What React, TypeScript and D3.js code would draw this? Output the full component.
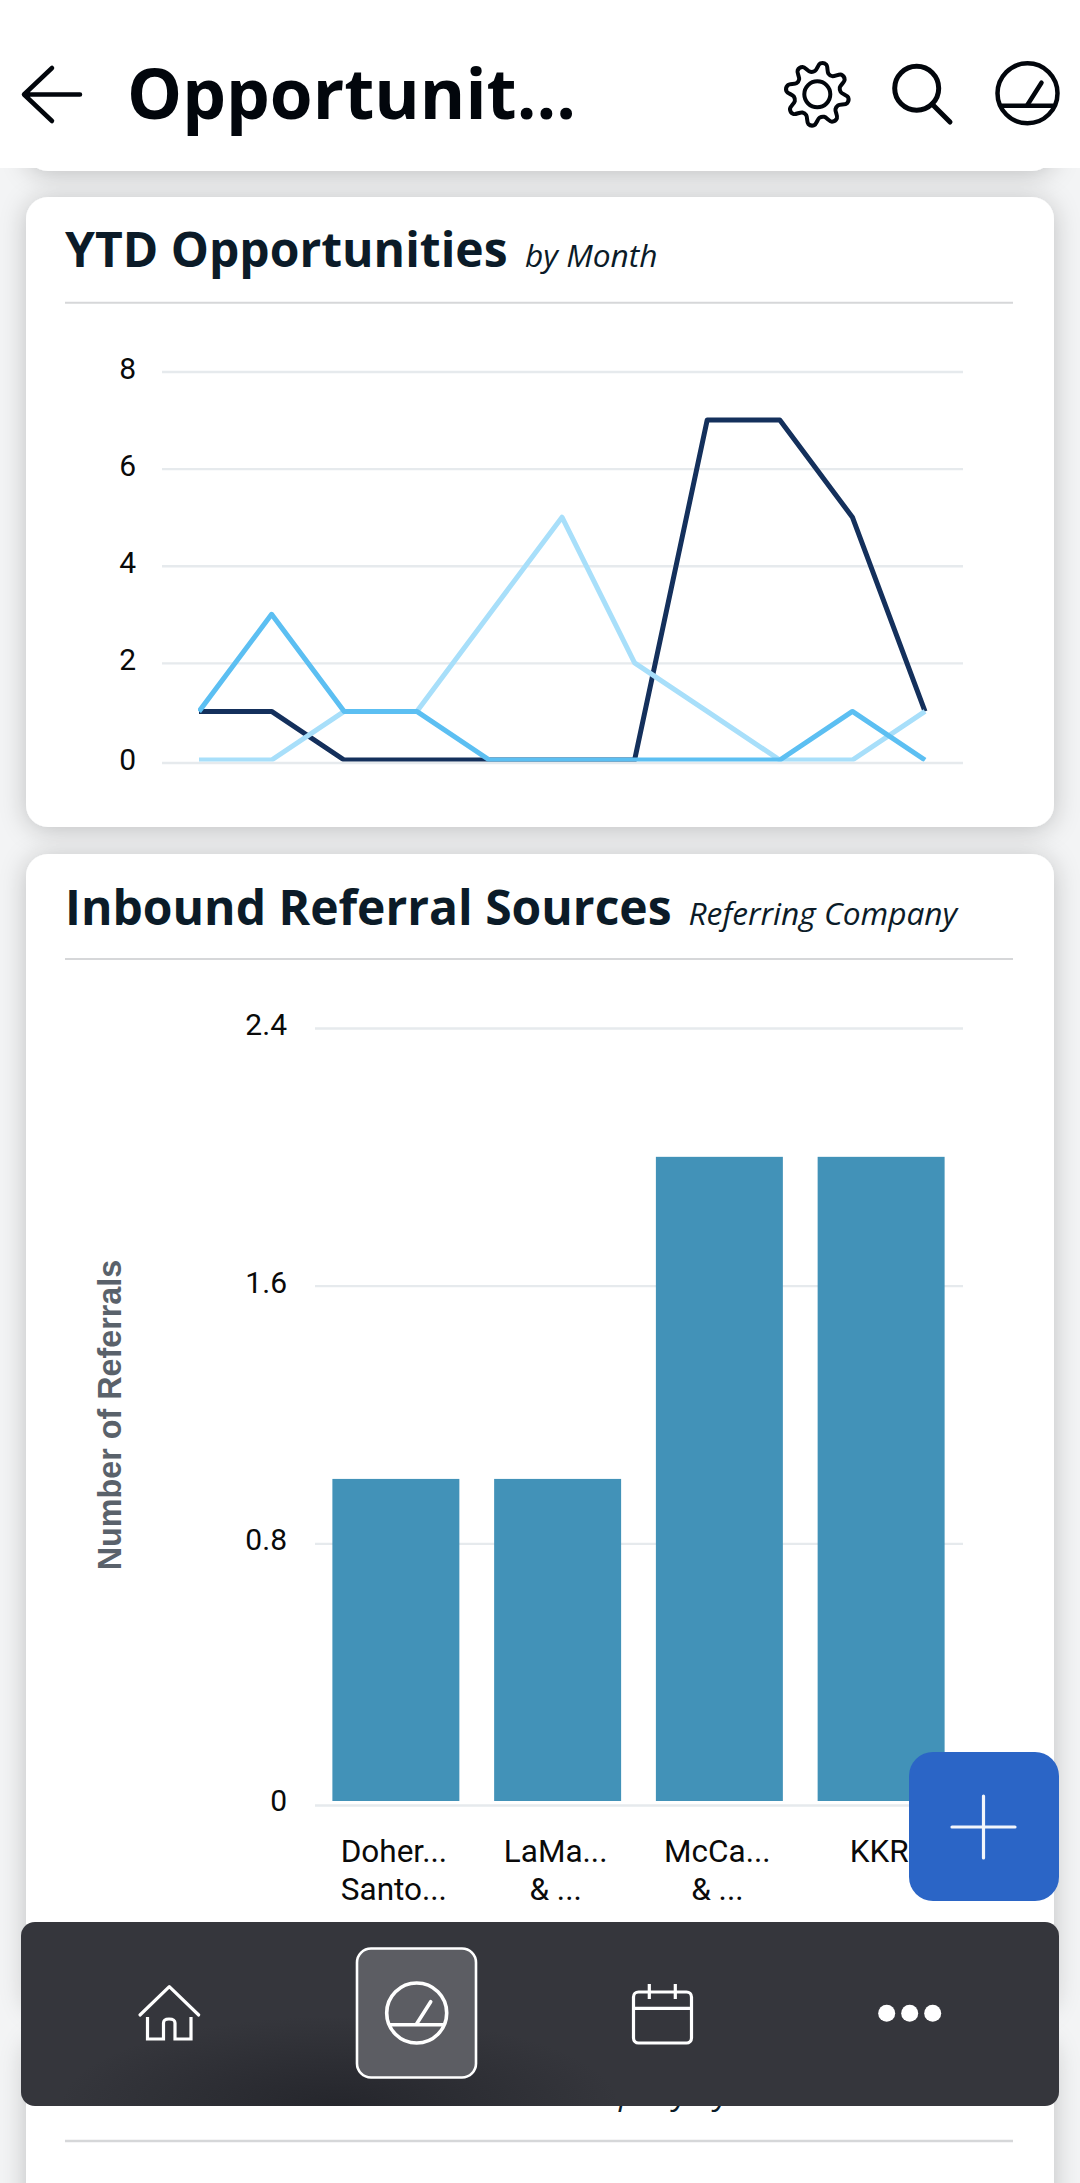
import * as d3 from "d3";
import { useEffect, useRef } from "react";

const months = ["Jan", "Feb", "Mar", "Apr", "May", "Jun", "Jul", "Aug", "Sep", "Oct", "Nov"];
const seriesDark = [1, 1, 0, 0, 0, 0, 0, 7, 7, 5, 1];
const seriesLight = [0, 0, 1, 1, 3, 5, 2, 1, 0, 0, 1];
const seriesMid = [1, 3, 1, 1, 0, 0, 0, 0, 0, 1, 0];
const lineTicks = [0, 2, 4, 6, 8];

const companies = ["Doherty", "LaMarche", "McCarthy", "KKR"];
const companyLabels = [["Doher...", "Santo..."], ["LaMa...", "& ..."], ["McCa...", "& ..."], ["KKR"]];
const referrals = [1, 1, 2, 2];
const barTicks = [0, 0.8, 1.6, 2.4];

const W = 1080;
const H = 2183;
const TITLE_FONT = "'Open Sans', sans-serif";
const INK = "#0b1b28";

type Sel = d3.Selection<any, any, any, any>;

function styleAxis(g: Sel, baseShift: number) {
  g.select(".domain").remove();
  g.selectAll(".tick line").attr("stroke", "#e6eaed").attr("stroke-width", 2.4);
  g.selectAll(".tick text")
    .attr("fill", "#0a0a0a")
    .attr("font-family", "Roboto, sans-serif")
    .attr("font-size", 30)
    .attr("dy", "0.22em");
  // the zero line and its label sit a little under the marks in the original
  const zero = g.selectAll(".tick").filter((d: any) => d === 0);
  zero.select("line").attr("transform", `translate(0,${baseShift})`);
  zero.select("text").attr("transform", "translate(0,2.5)");
}

function cardHeader(svg: Sel, title: string, sub: string, titleX: number, subX: number, base: number, ruleY: number) {
  svg.append("text").attr("x", titleX).attr("y", base).attr("font-family", TITLE_FONT).attr("font-weight", 700)
    .attr("font-size", 48).attr("fill", INK).text(title);
  svg.append("text").attr("x", subX).attr("y", base).attr("font-family", TITLE_FONT).attr("font-style", "italic")
    .attr("font-size", 31.7).attr("fill", INK).text(sub);
  svg.append("line").attr("x1", 65).attr("x2", 1013).attr("y1", ruleY).attr("y2", ruleY)
    .attr("stroke", "#d6d7d9").attr("stroke-width", 2);
}

function gauge(g: Sel, cx: number, cy: number, r: number, lineY: number, color: string, sw: number) {
  g.append("circle").attr("cx", cx).attr("cy", cy).attr("r", r).attr("fill", "none").attr("stroke", color).attr("stroke-width", sw);
  const dx = Math.sqrt(r * r - (lineY - cy) * (lineY - cy));
  g.append("line").attr("x1", cx - dx).attr("x2", cx + dx).attr("y1", lineY).attr("y2", lineY).attr("stroke", color).attr("stroke-width", sw);
  g.append("line").attr("x1", cx).attr("y1", lineY - 1).attr("x2", cx + 14).attr("y2", lineY - 23)
    .attr("stroke", color).attr("stroke-width", sw).attr("stroke-linecap", "round");
}

export default function App() {
  const ref = useRef<SVGSVGElement>(null);

  useEffect(() => {
    if (!ref.current) return;
    const svg = d3.select(ref.current);
    svg.selectAll("*").remove();

    const defs = svg.append("defs");
    const shadow = defs.append("filter").attr("id", "cardShadow").attr("x", "-10%").attr("y", "-20%").attr("width", "120%").attr("height", "140%");
    shadow.append("feDropShadow").attr("dx", 0).attr("dy", 3).attr("stdDeviation", 13).attr("flood-color", "#000").attr("flood-opacity", 0.22);
    const navGlow = defs.append("radialGradient").attr("id", "navGlow").attr("gradientUnits", "userSpaceOnUse")
      .attr("cx", 0).attr("cy", 0).attr("r", 1)
      .attr("gradientTransform", "translate(340,2106) scale(280,90)");
    navGlow.append("stop").attr("offset", 0).attr("stop-color", "#25262c");
    navGlow.append("stop").attr("offset", 1).attr("stop-color", "#25262c").attr("stop-opacity", 0);
    defs.append("clipPath").attr("id", "lineClip").append("rect").attr("x", 198).attr("y", 340).attr("width", 770).attr("height", 421.5);
    defs.append("clipPath").attr("id", "navClip").append("rect").attr("x", 21).attr("y", 1922).attr("width", 1038).attr("height", 184).attr("rx", 14);

    svg.append("rect").attr("width", W).attr("height", H).attr("fill", "#f3f4f5");

    // cards
    const cards = [
      { y: -200, h: 371 },
      { y: 197, h: 630 },
      { y: 854, h: 1155 },
      { y: 2036, h: 300 },
    ];
    svg.append("g").selectAll("rect").data(cards).enter().append("rect")
      .attr("x", 26).attr("width", 1028).attr("y", (d) => d.y).attr("height", (d) => d.h).attr("rx", 22)
      .attr("fill", "#fff").attr("filter", "url(#cardShadow)");

    // header bar
    svg.append("rect").attr("width", W).attr("height", 168).attr("fill", "#fff");
    svg.append("text").attr("x", 127).attr("y", 119).attr("font-family", TITLE_FONT).attr("font-weight", 700)
      .attr("font-size", 69.3).attr("fill", "#02060c").text("Opportunit...");
    svg.append("path").attr("d", "M52,68 L24,94.5 L52,121 M24,94.5 H80").attr("fill", "none").attr("stroke", "#02060c")
      .attr("stroke-width", 4.5).attr("stroke-linecap", "round").attr("stroke-linejoin", "round");

    // gear outline comes from a closed radial curve
    const gearPts = d3.range(32).map((i) => {
      const k = i % 4;
      const r = k === 0 || k === 1 ? 31 : 23.5;
      return [(i * Math.PI * 2) / 32 + Math.PI / 32, r] as [number, number];
    });
    const gearPath = d3.lineRadial().curve(d3.curveCatmullRomClosed.alpha(0.5))(gearPts) as string;
    const gear = svg.append("g").attr("transform", "translate(817.3,94.3)").attr("fill", "none").attr("stroke", "#02060c").attr("stroke-width", 4);
    gear.append("path").attr("d", gearPath);
    gear.append("circle").attr("r", 13);

    svg.append("circle").attr("cx", 916.7).attr("cy", 88.3).attr("r", 22).attr("fill", "none").attr("stroke", "#02060c").attr("stroke-width", 5);
    svg.append("line").attr("x1", 932).attr("y1", 104).attr("x2", 950).attr("y2", 122).attr("stroke", "#02060c").attr("stroke-width", 5).attr("stroke-linecap", "round");
    gauge(svg.append("g"), 1027.5, 93.3, 30, 105.7, "#02060c", 4.5);

    // YTD Opportunities
    cardHeader(svg, "YTD Opportunities", "by Month", 65, 525, 267, 302.7);

    const lineY = d3.scaleLinear().domain([0, 8]).range([760, 371.5]);
    const lineX = d3.scalePoint<string>().domain(months).range([199, 925]);

    const lineAxis = svg.append("g").attr("transform", "translate(162,0)")
      .call(d3.axisLeft(lineY).tickValues(lineTicks).tickFormat(d3.format("d") as any).tickSize(-801).tickPadding(26) as any);
    styleAxis(lineAxis, 2.5);

    const line = d3.line<number>().x((_, i) => lineX(months[i]) as number).y((d) => lineY(d));
    const lines = svg.append("g").attr("clip-path", "url(#lineClip)").attr("fill", "none").attr("stroke-width", 5).attr("stroke-linejoin", "round");
    lines.append("path").attr("d", line(seriesDark)).attr("stroke", "#14305c");
    lines.append("path").attr("d", line(seriesLight)).attr("stroke", "#a8dffa");
    lines.append("path").attr("d", line(seriesMid)).attr("stroke", "#5cbff2");

    // Inbound Referral Sources
    cardHeader(svg, "Inbound Referral Sources", "Referring Company", 65, 688.5, 925, 959);

    const barY = d3.scaleLinear().domain([0, 2.4]).range([1801, 1028]);
    const barX = d3.scaleBand<string>().domain(companies).range([315, 962]).paddingInner(0.215).paddingOuter(0.1075);

    const barAxis = svg.append("g").attr("transform", "translate(315,0)")
      .call(d3.axisLeft(barY).tickValues(barTicks).tickFormat((d) => String(d)).tickSize(-648).tickPadding(28) as any);
    styleAxis(barAxis, 4);

    svg.append("g").selectAll("rect").data(referrals).enter().append("rect")
      .attr("x", (_, i) => barX(companies[i]) as number)
      .attr("width", barX.bandwidth())
      .attr("y", (d) => barY(d))
      .attr("height", (d) => barY(0) - barY(d))
      .attr("fill", "#4292b8");

    companyLabels.forEach((lbl, i) => {
      const cx = (barX(companies[i]) as number) + barX.bandwidth() / 2 - 2;
      lbl.forEach((t, j) => {
        svg.append("text").attr("x", cx).attr("y", 1862 + j * 37.5).attr("text-anchor", "middle")
          .attr("font-family", "Roboto, sans-serif").attr("font-size", 31.5).attr("fill", "#0a0a0a").text(t);
      });
    });

    svg.append("text")
      .attr("transform", "translate(121,1415) rotate(-90)")
      .attr("text-anchor", "middle")
      .attr("font-family", "'Liberation Sans', sans-serif")
      .attr("font-weight", 700)
      .attr("font-size", 32.3)
      .attr("fill", "#5a626b")
      .text("Number of Referrals");

    // third card, mostly behind the nav bar
    svg.append("text").attr("x", 555).attr("y", 2105).attr("font-family", TITLE_FONT).attr("font-style", "italic")
      .attr("font-size", 31.7).attr("fill", INK).text("Company by");
    svg.append("line").attr("x1", 65).attr("x2", 1013).attr("y1", 2141).attr("y2", 2141).attr("stroke", "#d6d7d9").attr("stroke-width", 2.5);

    // add button
    svg.append("rect").attr("x", 909).attr("y", 1752).attr("width", 150).attr("height", 149).attr("rx", 24).attr("fill", "#2b65c6");
    svg.append("path").attr("d", "M952,1827 H1015 M983.5,1796 V1858").attr("stroke", "#f2f5fb").attr("stroke-width", 3.2).attr("stroke-linecap", "round");

    // nav bar
    svg.append("rect").attr("x", 21).attr("y", 1922).attr("width", 1038).attr("height", 184).attr("rx", 14).attr("fill", "#35363c");
    svg.append("rect").attr("x", 21).attr("y", 1922).attr("width", 1038).attr("height", 184).attr("fill", "url(#navGlow)").attr("clip-path", "url(#navClip)");

    const nav = svg.append("g").attr("fill", "none").attr("stroke", "#fff").attr("stroke-width", 3.2);
    nav.append("path").attr("d", "M140,2015 L169.3,1986.7 L198.7,2015").attr("stroke-linecap", "round").attr("stroke-linejoin", "round");
    nav.append("path").attr("d", "M147.5,2017 V2039 H163.5 V2023 Q163.5,2019 169,2019 Q175,2019 175,2023 V2039 H191 V2017");

    nav.append("rect").attr("x", 357).attr("y", 1948.5).attr("width", 119).attr("height", 129).attr("rx", 14).attr("fill", "#5c5d63").attr("stroke-width", 2.6);
    gauge(nav.append("g"), 416.7, 2013, 30, 2024.7, "#fff", 3.6);

    nav.append("rect").attr("x", 633.5).attr("y", 1992).attr("width", 58).attr("height", 51).attr("rx", 5);
    nav.append("path").attr("d", "M633.5,2008.3 H691.5 M649.3,1984 V1999 M675.3,1984 V1999");
    nav.append("g").attr("stroke", "none").attr("fill", "#fff").selectAll("circle").data([886.7, 909.7, 932.7]).enter().append("circle")
      .attr("cx", (d) => d).attr("cy", 2013.3).attr("r", 8.5);
  }, []);

  return <svg ref={ref} width={W} height={H} style={{ position: "absolute", left: 0, top: 0, display: "block" }} />;
}
